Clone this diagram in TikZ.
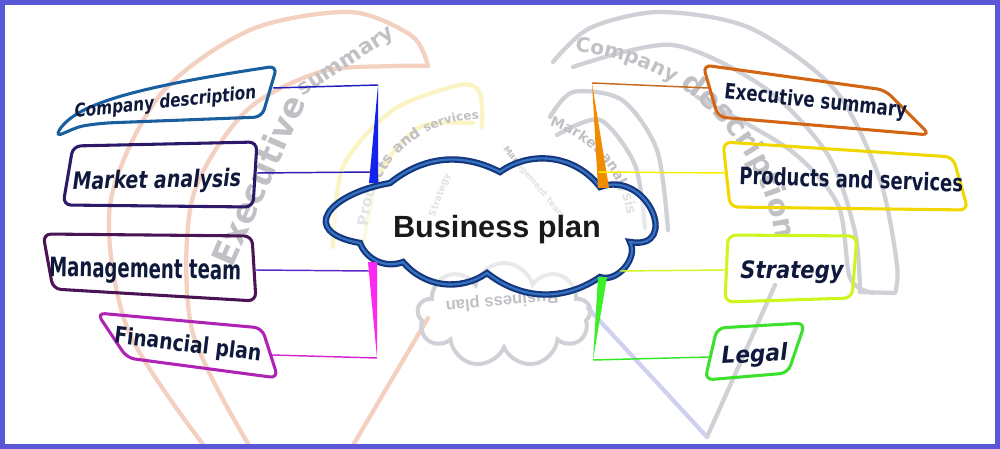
\documentclass[tikz,border=0pt]{standalone}
\usepackage{graphicx}
\usepackage{fontspec}
\setmainfont{DejaVu Sans}
\newfontfamily\planfont{Liberation Sans}
\usetikzlibrary{shapes.symbols,decorations.text}

\definecolor{frameblue}{RGB}{88,88,214}
\definecolor{textnavy}{RGB}{15,25,60}
\definecolor{plantext}{RGB}{25,25,25}
\definecolor{cloudnavy}{RGB}{20,55,125}
\definecolor{cloudblue}{RGB}{55,115,195}
\definecolor{cdbox}{RGB}{25,95,160}
\definecolor{mabox}{RGB}{45,25,105}
\definecolor{mtbox}{RGB}{75,20,85}
\definecolor{fpbox}{RGB}{175,35,180}
\definecolor{esbox}{RGB}{210,100,20}
\definecolor{psbox}{RGB}{240,215,0}
\definecolor{stbox}{RGB}{205,245,30}
\definecolor{lgbox}{RGB}{60,225,45}
\definecolor{cdline}{RGB}{30,30,190}
\definecolor{maline}{RGB}{45,30,175}
\definecolor{mtline}{RGB}{95,40,200}
\definecolor{fpline}{RGB}{210,40,210}
\definecolor{trunkblue}{RGB}{20,35,235}
\definecolor{trunkpink}{RGB}{255,40,240}
\definecolor{trunkorange}{RGB}{240,140,0}
\definecolor{trunkgreen}{RGB}{60,240,40}
\definecolor{esline}{RGB}{200,105,30}
\definecolor{psline}{RGB}{250,238,0}
\definecolor{stline}{RGB}{210,245,40}
\definecolor{lgline}{RGB}{50,230,40}
\definecolor{ghostfg}{RGB}{192,192,197}
\definecolor{ghostgray}{RGB}{208,208,215}
\definecolor{ghostsalmon}{RGB}{244,208,192}
\definecolor{ghostyellow}{RGB}{250,243,195}
\definecolor{ghostblue}{RGB}{208,208,240}

\newcommand{\sq}[3]{\scalebox{#1}[1]{\fontsize{#2}{#2}\selectfont #3}}

\begin{document}
\begin{tikzpicture}[x=0.75pt, y=0.75pt,
  lbl/.style={anchor=base, text=textnavy, inner sep=0pt, font=\bfseries},
  boxline/.style={draw=#1, line width=2.3pt, rounded corners=6pt},
  link/.style={draw=#1, line width=1.1pt},
  ghostline/.style={draw=#1, line width=3.2pt, line cap=round},
  ghosttext/.style={text=ghostfg, inner sep=0pt, font=\bfseries}]

  \useasboundingbox (0,0) rectangle (1000,-449);

  % faded reflection behind the map
  \draw[ghostline=ghostsalmon] plot[smooth] coordinates {(205,-447) (128,-330) (110,-205) (160,-95) (250,-30) (350,-12) (412,-36) (428,-66)};
  \draw[ghostline=ghostsalmon] plot[smooth] coordinates {(250,-447) (192,-330) (192,-200) (245,-112) (320,-72) (395,-66) (428,-66)};
  \draw[ghostline=ghostsalmon] (352,-447) -- (428,-318);
  \draw[ghostline=ghostyellow] plot[smooth] coordinates {(333,-247) (343,-167) (393,-110) (460,-85) (480,-93) (482,-127)};
  \draw[ghostline=ghostyellow] plot[smooth] coordinates {(362,-250) (380,-173) (420,-127) (473,-123)};

  \draw[ghostline=ghostgray] plot[smooth] coordinates {(553,-62) (590,-28) (660,-12) (750,-28) (835,-90) (880,-180) (897,-265) (895,-293)};
  \draw[ghostline=ghostgray] plot[smooth] coordinates {(573,-67) (672,-45) (765,-88) (828,-155) (855,-232) (860,-292)};
  \draw[ghostline=ghostgray] (860,-292) -- (895,-293);
  \draw[ghostline=ghostgray] plot[smooth] coordinates {(697,-97) (790,-150) (838,-205) (850,-278) (873,-293)};
  \draw[ghostline=ghostgray] plot[smooth] coordinates {(550,-117) (573,-92) (622,-100) (657,-150) (668,-230)};
  \draw[ghostline=ghostgray] plot[smooth] coordinates {(557,-135) (600,-120) (635,-165) (645,-228)};
  \draw[ghostline=ghostblue] (588,-308) -- (707,-437);
  \draw[ghostline=ghostgray] (707,-437) -- (775,-285);

  \node[cloud, cloud puffs=9, cloud ignores aspect, minimum width=130pt, minimum height=78pt,
        draw=ghostgray, line width=3pt] (g-cloud) at (504,-315) {};

  \node[ghosttext, rotate=66, font=\bfseries\fontsize{25}{25}\selectfont] (g-es1) at (258,-180) {Executive};
  \node[ghosttext, rotate=33, font=\bfseries\fontsize{16}{16}\selectfont] (g-es2) at (347,-63) {summary};
  \path[decorate, decoration={text along path, text align=left,
        text={|\color{ghostfg}\bfseries\fontsize{15}{15}\selectfont|Company |\color{ghostfg}\bfseries\fontsize{22}{22}\selectfont|description}}]
    (575,-52) arc[start angle=86, end angle=2, radius=218];
  \path[decorate, decoration={text along path, text align=center,
        text={|\color{ghostfg}\bfseries\fontsize{10.5}{10.5}\selectfont|Market analysis}}]
    (535,-123) arc[start angle=82, end angle=0, radius=108];
  \path[decorate, decoration={text along path, text align=center,
        text={|\color{ghostfg}\bfseries\fontsize{11}{11}\selectfont|Products and |\color{ghostfg}\bfseries\fontsize{9}{9}\selectfont|services}}]
    (368,-231) arc[start angle=180, end angle=88, radius=112];
  \node[ghosttext, rotate=185, font=\planfont\bfseries\fontsize{12.5}{12.5}\selectfont] (g-plan) at (502,-301) {Business plan};
  \node[ghosttext, rotate=-50, font=\bfseries\fontsize{6.5}{6.5}\selectfont] (g-mt) at (534,-183) {Management team};
  \node[ghosttext, rotate=70, font=\bfseries\fontsize{7}{7}\selectfont] (g-st) at (440,-195) {Strategy};

  % central cloud
  \draw[draw=cloudnavy, line width=4.8pt, fill=white, fill opacity=0.55,
        postaction={draw=cloudblue, line width=1.6pt}]
    (390,-183) to[bend left=33] (500,-172) to[bend left=44] (600,-187)
    to[out=20, in=-10, looseness=2.1] (630,-242)
    to[bend left=70] (600,-277) to[bend left=36] (487,-273)
    to[bend left=42] (403,-262) to[bend left=45] (360,-243)
    to[out=170, in=190, looseness=2.4] cycle;
  \node[anchor=base, text=plantext, font=\planfont\bfseries\fontsize{23}{23}\selectfont] (plan) at (497,-238) {Business plan};

  % left boxes
  \draw[boxline=cdbox] (262,-117) -- (105,-123) .. controls (80,-126) .. (55,-137)
    .. controls (75,-105) and (130,-88) .. (277,-66) -- cycle;
  \draw[boxline=mabox] (73,-146) -- (257,-142) -- (253,-207) -- (63,-205) -- cycle;
  \draw[boxline=mtbox] (43,-234) -- (252,-236) -- (256,-301) -- (53,-289) -- cycle;
  \draw[boxline=fpbox] (97,-313) -- (262,-328) -- (278,-378) -- (127,-358) -- cycle;

  \node[lbl, rotate=6] (cd) at (166,-108) {\itshape\sq{0.82}{14}{Company description}};
  \node[lbl, rotate=1] (ma) at (157,-188) {\itshape\sq{0.79}{18}{Market analysis}};
  \node[lbl, rotate=-1] (mt) at (145,-278) {\sq{0.68}{20}{Management team}};
  \node[lbl, rotate=-7] (fp) at (187,-352) {\sq{0.83}{17}{Financial plan}};

  % right boxes
  \draw[boxline=esbox] (703,-65) -- (885,-90) -- (930,-135) -- (718,-117) -- cycle;
  \draw[boxline=psbox] (723,-142) -- (953,-157) -- (968,-210) -- (730,-207) -- cycle;
  \draw[boxline=stbox] (728,-235) -- (857,-236) -- (852,-298) -- (725,-302) -- cycle;
  \draw[boxline=lgbox] (717,-328) -- (805,-323) -- (788,-373) -- (705,-380) -- cycle;

  \node[lbl, rotate=-6] (es) at (815,-108) {\sq{0.78}{16}{Executive summary}};
  \node[lbl, rotate=-2] (ps) at (851,-188) {\sq{0.75}{18}{Products and services}};
  \node[lbl] (st) at (792,-278) {\itshape\sq{0.88}{18}{Strategy}};
  \node[lbl, rotate=3] (lg) at (755,-362) {\itshape\sq{0.93}{17.5}{Legal}};

  % trunks
  \coordinate (lt) at (378,-85);
  \coordinate (lb) at (377,-358);
  \coordinate (rt) at (592,-83);
  \coordinate (rb) at (593,-360);

  \fill[trunkblue] (lt) -- (378,-183) -- (369,-183) -- cycle;
  \fill[trunkpink] (368,-262) -- (377,-262) -- (lb) -- cycle;
  \fill[trunkorange] (rt) -- (609,-188) -- (598,-188) -- cycle;
  \fill[trunkgreen] (598,-277) -- (607,-277) -- (rb) -- cycle;

  % links
  \coordinate (cd-e) at (273,-88);
  \coordinate (ma-e) at (257,-173);
  \coordinate (ma-t) at (371,-172);
  \coordinate (mt-e) at (256,-270);
  \coordinate (mt-t) at (369,-271);
  \coordinate (fp-e) at (272,-355);
  \coordinate (es-e) at (708,-88);
  \coordinate (ps-e) at (725,-173);
  \coordinate (ps-t) at (598,-172);
  \coordinate (st-e) at (725,-270);
  \coordinate (st-t) at (620,-271);
  \coordinate (lg-e) at (709,-357);

  \draw[link=cdline] (cd-e) -- (lt);
  \draw[link=maline] (ma-e) -- (ma-t);
  \draw[link=mtline] (mt-e) -- (mt-t);
  \draw[link=fpline] (fp-e) -- (lb);
  \draw[link=esline] (rt) -- (es-e);
  \draw[link=psline] (ps-t) -- (ps-e);
  \draw[link=stline] (st-t) -- (st-e);
  \draw[link=lgline] (rb) -- (lg-e);

  % frame
  \draw[frameblue, line width=3.6pt] (2.4,-2.4) rectangle (997.6,-446.6);
\end{tikzpicture}
\end{document}
